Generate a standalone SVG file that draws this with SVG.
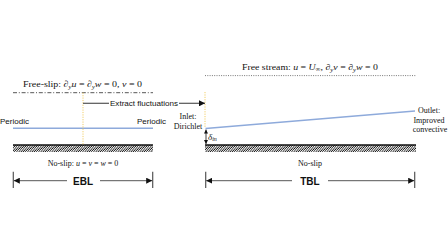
<svg xmlns="http://www.w3.org/2000/svg" width="448" height="252" viewBox="0 0 448 252">
<defs>
<pattern id="hatch" patternUnits="userSpaceOnUse" width="2.2" height="7" patternTransform="skewX(-40)">
<line x1="1" y1="0" x2="1" y2="7" stroke="#111" stroke-width="1"/>
</pattern>
<marker id="ah" viewBox="0 0 10 10" refX="10" refY="5" markerWidth="6" markerHeight="6" orient="auto-start-reverse" markerUnits="userSpaceOnUse">
<path d="M0,0 L10,5 L0,10 z" fill="#111"/>
</marker>
<marker id="ahs" viewBox="0 0 10 10" refX="10" refY="5" markerWidth="4" markerHeight="4" orient="auto-start-reverse" markerUnits="userSpaceOnUse">
<path d="M0,0 L10,5 L0,10 z" fill="#111"/>
</marker>
</defs>
<style>
.serif{font-family:"Liberation Serif","Times New Roman",serif;fill:#111}
.sans{font-family:"Liberation Sans",Arial,sans-serif;fill:#111}
.bold{font-weight:bold}
.it{font-style:italic}
.wall{stroke:#111;stroke-width:1.6}
.dim{stroke:#444;stroke-width:0.9;fill:none}
.tick{stroke:#555;stroke-width:1.2}
.blue{stroke:#8eaadb;stroke-width:1.4;fill:none}
.yel{stroke:#f2cf68;stroke-width:1;stroke-dasharray:1.2 1.2;fill:none}
</style>
<rect width="448" height="252" fill="#fff"/>

<g id="ebl-domain">
<line x1="13" y1="92.7" x2="153" y2="92.7" stroke="#444" stroke-width="0.9" stroke-dasharray="4 1.8 1 1.8"/>
<text class="serif" x="23" y="87" font-size="9" textLength="119" lengthAdjust="spacingAndGlyphs">Free-slip: <tspan class="it">∂</tspan><tspan class="it" font-size="6" dy="2">y</tspan><tspan class="it" dy="-2">u</tspan> = <tspan class="it">∂</tspan><tspan class="it" font-size="6" dy="2">y</tspan><tspan class="it" dy="-2">w</tspan> = 0,  <tspan class="it">v</tspan> = 0</text>
<line class="blue" x1="13" y1="128.3" x2="153" y2="128.3"/>
<rect x="13" y="145" width="140" height="7" fill="url(#hatch)"/>
<line class="wall" x1="13" y1="145" x2="153" y2="145"/>
<text class="serif" x="83" y="166" font-size="8" text-anchor="middle">No-slip: <tspan class="it">u</tspan> = <tspan class="it">v</tspan> = <tspan class="it">w</tspan> = 0</text>
</g>

<g id="periodic-left"><text class="sans" x="0" y="124" font-size="7.5" textLength="29" lengthAdjust="spacingAndGlyphs">Periodic</text></g>
<g id="periodic-right"><text class="sans" x="137" y="124" font-size="7.5" textLength="29" lengthAdjust="spacingAndGlyphs">Periodic</text></g>

<g id="tbl-domain">
<line x1="205" y1="75.6" x2="416" y2="75.6" stroke="#555" stroke-width="0.8" stroke-dasharray="1 1.3"/>
<text class="serif" x="242" y="69.5" font-size="8.5" textLength="136" lengthAdjust="spacingAndGlyphs">Free stream: <tspan class="it">u</tspan> = <tspan class="it">U</tspan><tspan font-size="6" dy="1.5">∞</tspan><tspan dy="-1.5">,</tspan>  <tspan class="it">∂</tspan><tspan class="it" font-size="6" dy="2">y</tspan><tspan class="it" dy="-2">v</tspan> = <tspan class="it">∂</tspan><tspan class="it" font-size="6" dy="2">y</tspan><tspan class="it" dy="-2">w</tspan> = 0</text>
<line class="blue" x1="205.5" y1="128.5" x2="415" y2="111"/>
<rect x="205" y="145" width="211" height="7" fill="url(#hatch)"/>
<line class="wall" x1="205" y1="145" x2="416" y2="145"/>
<text class="serif" x="310" y="165.5" font-size="8" text-anchor="middle">No-slip</text>
</g>

<g id="inlet">
<text class="serif" x="188" y="118.5" font-size="8" text-anchor="middle">Inlet:</text>
<text class="serif" x="188" y="128.8" font-size="8" text-anchor="middle">Dirichlet</text>
</g>

<g id="outlet">
<text class="serif" x="429" y="113" font-size="8" text-anchor="middle">Outlet:</text>
<text class="serif" x="429" y="122.5" font-size="8" text-anchor="middle">Improved</text>
<text class="serif" x="430" y="132.3" font-size="8" text-anchor="middle">convective</text>
</g>

<g id="delta-in">
<text class="serif it" x="208" y="139.5" font-size="9">δ<tspan font-size="6" dy="1.5">in</tspan></text>
</g>

<g id="ebl-dimension">
<text class="sans bold" x="83" y="184.6" font-size="10" text-anchor="middle">EBL</text>
</g>
<g id="tbl-dimension">
<text class="sans bold" x="310" y="184.6" font-size="10" text-anchor="middle">TBL</text>
</g>

<g id="extract-label">
<text class="sans" x="110" y="106" font-size="7.8" textLength="68" lengthAdjust="spacingAndGlyphs">Extract fluctuations</text>
</g>

<g id="connectors">
<line class="yel" x1="83" y1="92.7" x2="83" y2="145"/>
<line class="yel" x1="205" y1="92" x2="205" y2="127"/>
<line x1="83" y1="103.3" x2="109" y2="103.3" stroke="#555" stroke-width="1.2"/>
<line x1="179" y1="103.3" x2="205" y2="103.3" stroke="#555" stroke-width="1.2" marker-end="url(#ah)"/>
<line x1="206" y1="129.5" x2="206" y2="144" stroke="#111" stroke-width="0.8" marker-start="url(#ahs)" marker-end="url(#ahs)"/>
<line class="tick" x1="13.3" y1="171.7" x2="13.3" y2="188"/>
<line class="tick" x1="152.7" y1="171.7" x2="152.7" y2="188"/>
<line class="dim" x1="13.8" y1="180.7" x2="67" y2="180.7" marker-start="url(#ah)"/>
<line class="dim" x1="100" y1="180.7" x2="152.2" y2="180.7" marker-end="url(#ah)"/>
<line class="tick" x1="205.7" y1="171.7" x2="205.7" y2="188"/>
<line class="tick" x1="414.7" y1="171.7" x2="414.7" y2="188"/>
<line class="dim" x1="206.2" y1="180.7" x2="292" y2="180.7" marker-start="url(#ah)"/>
<line class="dim" x1="328" y1="180.7" x2="414.2" y2="180.7" marker-end="url(#ah)"/>
</g>
</svg>
